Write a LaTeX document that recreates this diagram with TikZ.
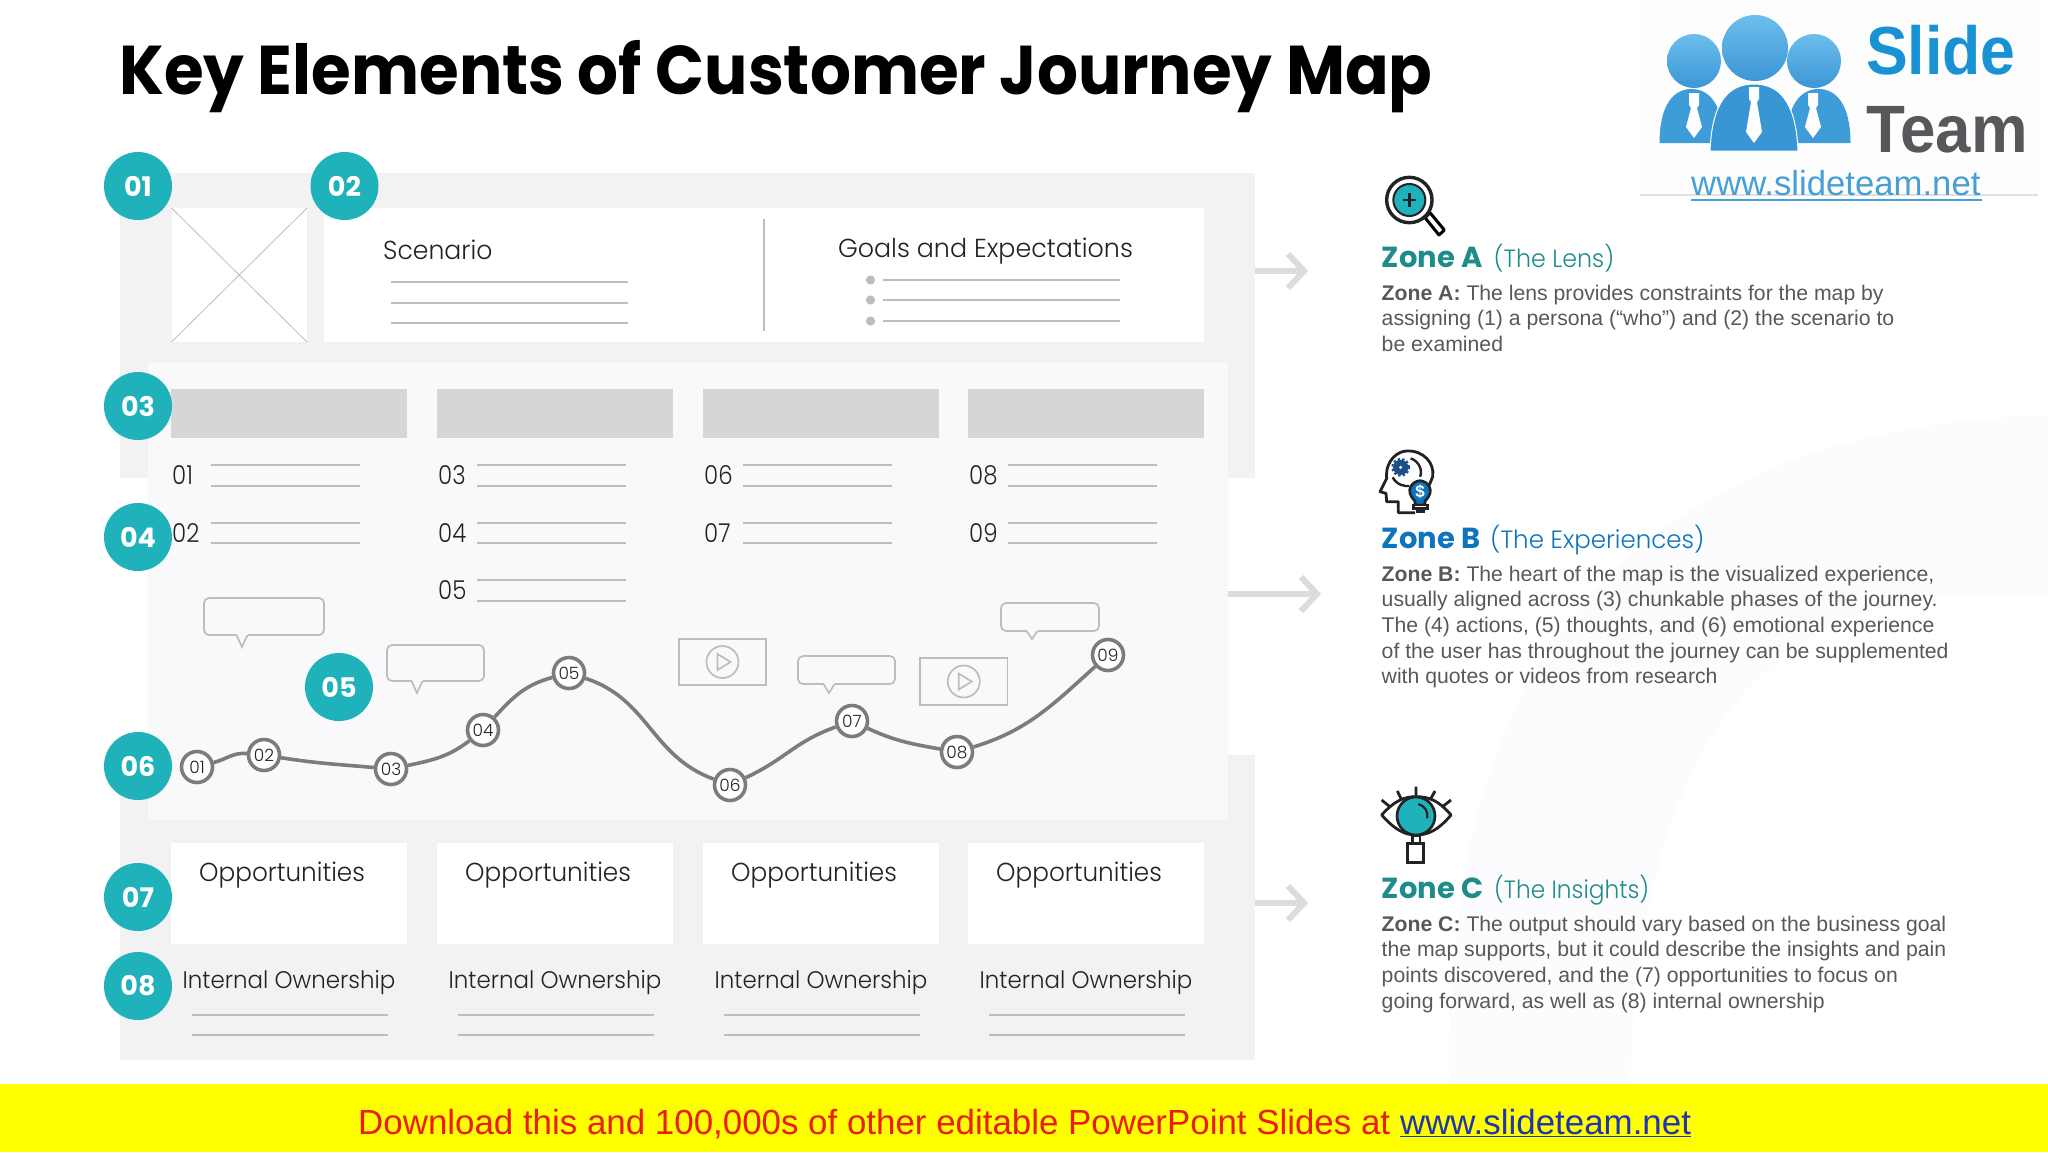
\documentclass[tikz,border=0pt]{standalone}
\usepackage{graphicx}
\usepackage{fontspec}
\setmainfont{Liberation Sans}
\newfontfamily\gothic{Poppins Light}
\newfontfamily\gothicb{Poppins SemiBold}
\newfontfamily\gothicx{Poppins}[BoldFont={Poppins Bold}]
\newcommand{\szf}[1]{\fontsize{#1}{#1}\selectfont}
\newcommand{\xs}[2]{\scalebox{#1}[1]{#2}}
\definecolor{panel}{HTML}{F2F2F4}
\definecolor{inner}{HTML}{F9F9FB}
\definecolor{barg}{HTML}{D5D6D8}
\definecolor{rule}{HTML}{BDBDBF}
\definecolor{teal}{HTML}{20B2BA}
\definecolor{zoneA}{HTML}{1E8C8A}
\definecolor{zoneB}{HTML}{0E75BC}
\definecolor{bodyt}{HTML}{58585A}
\definecolor{inkt}{HTML}{222224}
\definecolor{arrowg}{HTML}{DCDCDE}
\definecolor{pathg}{HTML}{7C7C7E}
\definecolor{ring}{HTML}{FCFCFE}
\definecolor{logobody}{HTML}{3E9CD8}
\definecolor{logobodyc}{HTML}{3896D4}
\definecolor{headtop}{HTML}{6CBEEC}
\definecolor{headbot}{HTML}{3C96D6}
\definecolor{slidec}{HTML}{1892D2}
\definecolor{teamc}{HTML}{58585C}
\definecolor{urlc}{HTML}{46A0D7}
\definecolor{banred}{HTML}{EC1C14}
\definecolor{banblue}{HTML}{1F35B0}
\definecolor{banyellow}{HTML}{FFFF00}
\definecolor{logobg}{HTML}{FDFDFD}
\definecolor{gearc}{HTML}{1B4F86}
\newcommand{\bubble}[6]{%
  \draw[rule,line width=1.7pt,rounded corners=5pt,fill=inner] (#1,#2) rectangle (#3,#4);
  \fill[inner] (#5-5.5,#4-1) rectangle (#5+5.5,#4+1);
  \draw[rule,line width=1.7pt,line join=miter] (#5-5.5,#4) -- (#5,#6) -- (#5+5.5,#4);}
\newcommand{\video}[4]{%
  \draw[rule,line width=1.7pt] (#1,#2) rectangle (#3,#4);
  \draw[rule,line width=1.7pt] ({(#1+#3)/2},{(#2+#4)/2}) circle[radius=16];
  \draw[rule,line width=1.7pt,line join=miter] ({(#1+#3)/2-5},{(#2+#4)/2-8}) -- ({(#1+#3)/2+8},{(#2+#4)/2}) -- ({(#1+#3)/2-5},{(#2+#4)/2+8}) -- cycle;}
\tikzset{
  badge/.style={circle,fill=teal,minimum size=68pt,inner sep=0pt,text=white,font=\gothicx\bfseries\szf{27}},
  pt/.style={circle,draw=pathg,line width=3.6pt,fill=white,minimum size=31pt,inner sep=0pt,text=inkt,font=\gothic\szf{17}},
  curve/.style={draw=pathg,line width=3.6pt},
  rl/.style={draw=rule,line width=2pt},
  lbl/.style={anchor=base west,inner sep=0pt,text=inkt,font=\gothic\szf{26}},
  num/.style={anchor=base west,inner sep=0pt,text=inkt,font=\gothic\szf{26}},
  zoneh/.style={anchor=base west,inner sep=0pt,font=\gothicx\bfseries\szf{29}},
  zonet/.style={anchor=base west,inner sep=0pt,font=\gothic\szf{25}},
  para/.style={anchor=north west,inner sep=0pt,align=left,text=bodyt,font=\fontsize{21.2}{25.7}\selectfont},
  flow/.style={draw=arrowg,line width=6pt,line cap=butt},
}
\begin{document}
\begin{tikzpicture}[x=1pt,y=-1pt]
\useasboundingbox (0,0) rectangle (2048,1152);
\fill[white] (0,0) rectangle (2048,1152);
% faint background ring
\fill[ring] (1450,1084) .. controls (1440,700) and (1600,430) .. (2048,415) -- (2048,598) .. controls (1800,570) and (1640,700) .. (1630,1084) -- cycle;
% panels
\fill[panel] (120,173) rectangle (1255,478);
\fill[panel] (120,755) rectangle (1255,1060);
\fill[inner] (148,362) rectangle (1228,820);
% top boxes
\fill[white] (171.5,208) rectangle (307,342);
\fill[white] (324,208) rectangle (1204,342);
\draw[rule,line width=.8pt] (171.5,208) -- (307,342) (307,208) -- (171.5,342);
\node[lbl] (scen) at (383,259) {\xs{.966}{Scenario}};
\node[lbl,anchor=base] (goals) at (985.5,257) {\xs{.974}{Goals and Expectations}};
\draw[rl] (391,282) -- (628,282) (391,303) -- (628,303) (391,323) -- (628,323);
\draw[rule,line width=1.5pt] (764,219) -- (764,331);
\foreach \yy in {280,300,321} {
  \fill[rule] (870.5,\yy) circle[radius=4.6];
  \draw[rl] (883,\yy) -- (1120,\yy);
}
% columns
\foreach \xx in {171,437,703,968} {
  \fill[barg] (\xx,389) rectangle (\xx+236,438);
  \fill[white] (\xx,843) rectangle (\xx+236,944);
  \node[lbl] at (\xx+28,881) {\xs{.95}{Opportunities}};
  \node[lbl,anchor=base,font=\gothic\szf{24}] at (\xx+118,988) {\xs{.955}{Internal Ownership}};
  \draw[rl] (\xx+21,1015) -- (\xx+216.5,1015) (\xx+21,1035) -- (\xx+216.5,1035);
}
% numbered lists
\foreach \xx/\yy/\t in {171/0/01,171/1/02,437/0/03,437/1/04,437/2/05,703/0/06,703/1/07,968/0/08,968/1/09} {
  \pgfmathsetmacro{\ya}{465+57.5*\yy}
  \node[num] at (\xx+1,\ya+19.5) {\xs{.88}{\t}};
  \draw[rl] (\xx+40,\ya) -- (\xx+189,\ya) (\xx+40,\ya+20.5) -- (\xx+189,\ya+20.5);
}
% bubbles and videos
\bubble{204}{598}{324}{635}{242}{647}
\bubble{387}{645}{484}{681}{417}{693}
\bubble{798}{656}{895}{684}{829}{693}
\bubble{1001}{603}{1099}{631}{1032}{639}
\video{679}{639}{766}{685}
\video{920}{658}{1007.5}{705}
% journey curve
\node[pt] (n1) at (197,767) {01};
\node[pt] (n2) at (264,755) {02};
\node[pt] (n3) at (391,769) {03};
\node[pt] (n4) at (483,730) {04};
\node[pt] (n5) at (569,673) {05};
\node[pt] (n6) at (730,785) {06};
\node[pt] (n7) at (852,721) {07};
\node[pt] (n8) at (957,752) {08};
\node[pt] (n9) at (1108,655) {09};
\draw[curve] (n1) to[out=15,in=175] (n2);
\draw[curve] (n2) to[out=-9,in=175] (n3);
\draw[curve] (n3) to[out=12,in=218] (n4);
\draw[curve] (n4) to[out=48,in=195] (n5);
\draw[curve] (n5) to[out=-18,in=160,looseness=1.05] (n6);
\draw[curve] (n6) to[out=25,in=200,looseness=1.1] (n7);
\draw[curve] (n7) to[out=-25,in=170] (n8);
\draw[curve] (n8) to[out=17,in=-138] (n9);
% badges
\node[badge] (b1) at (138,186) {01};
\node[badge] (b2) at (344.5,186) {02};
\node[badge] (b3) at (138,406) {03};
\node[badge] (b4) at (138,537) {04};
\node[badge] (b5) at (339,687) {05};
\node[badge] (b6) at (138,766) {06};
\node[badge] (b7) at (138,897) {07};
\node[badge] (b8) at (138,986) {08};
% flow arrows
\coordinate (aA0) at (1255,271); \coordinate (aA1) at (1305,271);
\coordinate (aB0) at (1228,594); \coordinate (aB1) at (1318,594);
\coordinate (aC0) at (1255,903); \coordinate (aC1) at (1305,903);
\draw[flow] (aA0) -- (aA1);
\draw[flow] (aB0) -- (aB1);
\draw[flow] (aC0) -- (aC1);
\draw[arrowg,line width=6pt,line join=miter] (1288,254) -- (1304,271) -- (1288,288);
\draw[arrowg,line width=6pt,line join=miter] (1301,577) -- (1317,594) -- (1301,611);
\draw[arrowg,line width=6pt,line join=miter] (1288,886) -- (1304,903) -- (1288,920);
% title
\node[anchor=base west,inner sep=0pt,text=black,font=\gothicx\bfseries\szf{69}] (title) at (119,94) {\xs{.932}{Key Elements of Customer Journey Map}};
% logo
\fill[logobg] (1638,0) rectangle (2038,195);
\draw[black!12,line width=1.2pt] (1640,195) -- (2038,195);
\foreach \cx/\w in {1691.5/32,1818.5/32} {
  \fill[logobody] (\cx-\w,143) .. controls (\cx-\w,105) and (\cx-18,89) .. (\cx,89) .. controls (\cx+18,89) and (\cx+\w,105) .. (\cx+\w,143) -- cycle;
}
\shade[top color=headtop,bottom color=headbot] (1694,61) circle[radius=27];
\shade[top color=headtop,bottom color=headbot] (1814,61) circle[radius=27];
\shade[top color=headtop,bottom color=headbot] (1755,48) circle[radius=33];
\filldraw[fill=logobodyc,draw=white,line width=1pt] (1710,151) .. controls (1712,100) and (1730,84) .. (1754,84) .. controls (1778,84) and (1796,100) .. (1798,151) -- cycle;
\foreach \tx/\ta/\tb in {1694/93/138,1754/87/143,1813/93/138} {
  \fill[white] (\tx-5,\ta) -- (\tx+5,\ta) -- (\tx+5,\ta+12) -- (\tx+3,\ta+15) -- (\tx+8,\tb-11) -- (\tx,\tb) -- (\tx-8,\tb-11) -- (\tx-3,\ta+15) -- (\tx-5,\ta+12) -- cycle;
}
\node[anchor=base west,inner sep=0pt,font=\bfseries\szf{68},text=slidec] (slide) at (1866,74) {\xs{.92}{Slide}};
\node[anchor=base west,inner sep=0pt,font=\bfseries\szf{67},text=teamc] (team) at (1866,152) {\xs{.95}{Team}};
\node[anchor=base west,inner sep=0pt,font=\szf{34.7},text=urlc] (url) at (1691,195) {www.slideteam.net};
\draw[urlc,line width=2.4pt] (1691,200) -- (1982,200);
% icon A
\begin{scope}[shift={(1375,170)},x=.3333pt,y=-.3333pt]
\draw[black,line width=3pt,line join=round,fill=white] (150,143) -- (192,195) -- (208,180) -- (165,128) -- cycle;
\draw[inkt,line width=3.4pt,fill=white] (103,90) circle[radius=22.7pt];
\draw[inkt,line width=2pt,fill=teal] (103,90) circle[radius=16pt];
\draw[inkt,line width=2.6pt] (83,90) -- (123,90) (103,70) -- (103,110);
\end{scope}
% icon B
\begin{scope}[shift={(1370,440)},x=.3333pt,y=-.3333pt]
\draw[inkt,line width=2.8pt,line join=round] (135,218) -- (85,218) -- (85,185) -- (50,185) -- (48,160) -- (30,155) -- (50,115) .. controls (45,60) and (85,33) .. (110,33) .. controls (160,30) and (195,70) .. (188,110) -- (178,135);
\fill[gearc] (92,82) circle[radius=7.6pt];
\draw[gearc,line width=2pt,dash pattern=on 2.4pt off 2.2pt] (92,82) circle[radius=8.4pt];
\fill[white] (92,82) circle[radius=1.6pt];
\draw[inkt,line width=2.4pt] (122,55) .. controls (150,65) and (158,95) .. (150,110);
\draw[inkt,line width=2.4pt] (68,112) .. controls (80,135) and (105,140) .. (118,138);
\draw[inkt,line width=2.6pt,fill=zoneB] (135,195) -- (135,183) .. controls (100,150) and (130,122) .. (150,122) .. controls (170,122) and (200,150) .. (165,183) -- (165,195) -- cycle;
\node[inner sep=0pt,text=white,font=\bfseries\szf{17}] (dollar) at (150,155) {\$};
\draw[inkt,line width=2.4pt,fill=white] (130,195) rectangle (172,205) (143,205) rectangle (160,215);
\end{scope}
% icon C
\begin{scope}[shift={(1370,780)},x=.3333pt,y=-.3333pt]
\draw[inkt,line width=2.8pt] (138,20) -- (138,50) (82,33) -- (95,60) (195,33) -- (180,60) (35,60) -- (62,82) (243,60) -- (215,82);
\draw[inkt,line width=2.8pt,line join=round] (35,105) .. controls (75,60) and (105,50) .. (138,50) .. controls (175,50) and (205,60) .. (243,105) .. controls (205,150) and (175,165) .. (138,165) .. controls (105,165) and (75,150) .. (35,105) -- cycle;
\draw[inkt,line width=2.6pt,fill=teal] (138,108) circle[radius=19pt];
\draw[inkt,line width=2.2pt] (145,72) .. controls (165,78) and (175,95) .. (172,115);
\draw[inkt,line width=2.8pt,fill=white] (128,168) rectangle (150,190);
\draw[inkt,line width=2.8pt,fill=white] (113,190) rectangle (160,248);
\end{scope}
% zone text
\node[zoneh,text=zoneA] (za) at (1381.5,267) {Zone A};
\node[zonet,text=zoneA] (zat) at (1493.5,267) {\xs{.95}{(The Lens)}};
\node[para] (pa) at (1381.5,284.6) {\textbf{Zone A:} The lens provides constraints for the map by\\assigning (1) a persona (“who”) and (2) the scenario to\\be examined};
\node[zoneh,text=zoneB] (zb) at (1381.5,548) {Zone B};
\node[zonet,text=zoneB] (zbt) at (1490,548) {\xs{.98}{(The Experiences)}};
\node[para] (pb) at (1381.5,565.5) {\textbf{Zone B:} The heart of the map is the visualized experience,\\usually aligned across (3) chunkable phases of the journey.\\The (4) actions, (5) thoughts, and (6) emotional experience\\of the user has throughout the journey can be supplemented\\with quotes or videos from research};
\node[zoneh,text=zoneA] (zc) at (1381.5,898) {Zone C};
\node[zonet,text=zoneA] (zct) at (1494,898) {\xs{.93}{(The Insights)}};
\node[para] (pc) at (1381.5,915.6) {\textbf{Zone C:} The output should vary based on the business goal\\the map supports, but it could describe the insights and pain\\points discovered, and the (7) opportunities to focus on\\going forward, as well as (8) internal ownership};
% banner
\fill[banyellow] (0,1084) rectangle (2048,1152);
\node[anchor=base west,inner sep=0pt,font=\szf{34.9},text=banred] (ban) at (358,1134) {Download this and 100,000s of other editable PowerPoint Slides at {\color{banblue}\underline{www.slideteam.net}}};
\end{tikzpicture}
\end{document}
